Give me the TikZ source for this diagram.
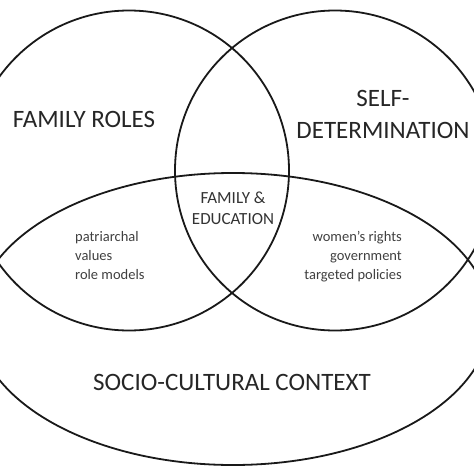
\documentclass[tikz,border=0pt]{standalone}
\usepackage{fontspec}
\setmainfont{Carlito}
\begin{document}
\begin{tikzpicture}[x=1pt,y=-1pt,
  ring/.style={line width=1.8pt, black!90},
  bigtxt/.style={text=black!85, font=\fontsize{25}{32}\selectfont, align=center, inner sep=0pt},
  midtxt/.style={text=black!80, font=\fontsize{17}{21}\selectfont, align=center, inner sep=0pt},
  smalltxt/.style={text=black!75, font=\fontsize{14.5}{19}\selectfont, inner sep=0pt}]
\useasboundingbox (0,0) rectangle (474,474);
\fill[white] (0,0) rectangle (474,474);
\begin{scope}
\clip (0,0) rectangle (474,474);
\draw[ring] (129,170.5) circle[radius=160pt];
\draw[ring] (335,170.5) circle[radius=160pt];
\draw[ring] (233,319) ellipse[x radius=257pt, y radius=146pt];
\end{scope}
\node[bigtxt] (fr) at (84,119) {FAMILY ROLES};
\node[bigtxt] (sd) at (383,114) {SELF-\\DETERMINATION};
\node[midtxt] (fe) at (233,208) {FAMILY \&\\EDUCATION};
\node[smalltxt, align=left, anchor=north west] (pv) at (75,231) {patriarchal\\values\\role models};
\node[smalltxt, align=right, anchor=north east] (wr) at (402,231) {women’s rights\\government\\targeted policies};
\node[bigtxt] (sc) at (232,382) {SOCIO-CULTURAL CONTEXT};
\end{tikzpicture}
\end{document}
